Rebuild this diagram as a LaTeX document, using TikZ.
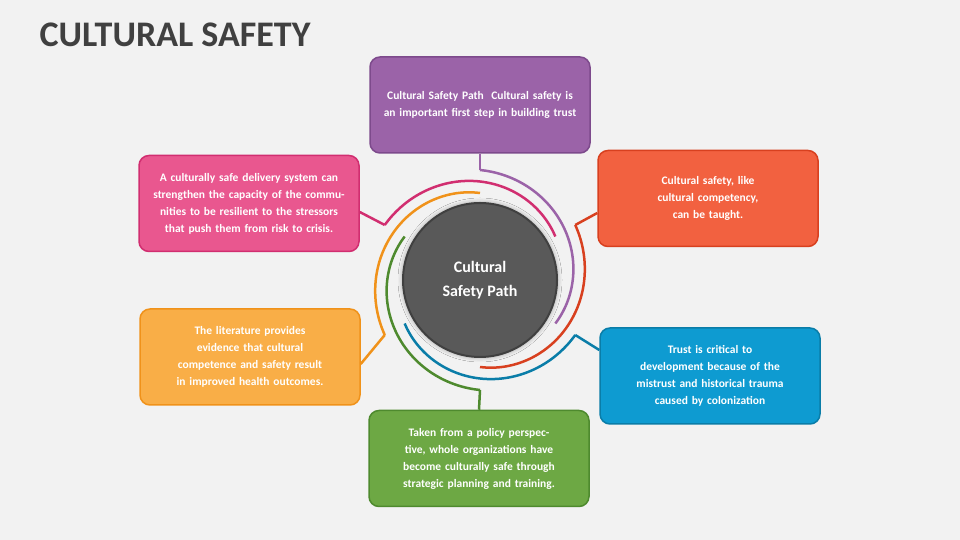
\documentclass[tikz,border=0pt]{standalone}
\usepackage{fontspec}
\setmainfont{Carlito}
\usetikzlibrary{shadows.blur}

\definecolor{bgray}{HTML}{F2F2F2}
\definecolor{titlegray}{HTML}{404040}
\definecolor{cpurple}{HTML}{9B63A8}
\definecolor{cpurpleD}{HTML}{7D4A8C}
\definecolor{cred}{HTML}{F26140}
\definecolor{credD}{HTML}{D8401F}
\definecolor{cpink}{HTML}{E9578F}
\definecolor{cpinkD}{HTML}{D12E70}
\definecolor{corange}{HTML}{F9AE47}
\definecolor{corangeD}{HTML}{F0921A}
\definecolor{cblue}{HTML}{0E9BD1}
\definecolor{cblueD}{HTML}{0A7DA8}
\definecolor{cgreen}{HTML}{6DA844}
\definecolor{cgreenD}{HTML}{4E8A2E}

\tikzset{
  infobox/.style={rounded corners=10pt, line width=1.5pt, minimum width=220pt,
    minimum height=96pt, text width=200pt, align=center, text=white,
    font=\fontsize{11.5}{17}\selectfont\bfseries},
  arcline/.style={line width=2.5pt},
}
\newcommand{\spiral}[2]{%
  \draw[arcline, #1, shift={(c)}] plot[domain=#2:#2-120, samples=40, smooth]
    (\x:{110-23*(#2-\x)/120});
}

\begin{document}
\begin{tikzpicture}[x=1pt, y=1pt]
  \fill[bgray] (0,0) rectangle (960,540);
  \useasboundingbox (0,0) rectangle (960,540);

  \node[anchor=west, text=titlegray, font=\fontsize{36}{40}\selectfont\bfseries] (title) at (36,505) {CULTURAL SAFETY};

  \node[infobox, fill=cpurple, draw=cpurpleD] (p) at (480,435) {Cultural Safety Path\ \ Cultural safety is an important first step in building trust};
  \node[infobox, fill=cred, draw=credD] (r) at (708,341.5) {Cultural safety, like\\ cultural competency,\\ can be taught.};
  \node[infobox, fill=cpink, draw=cpinkD] (k) at (249,336.5) {A culturally safe delivery system can strengthen the capacity of the communities to be resilient to the stressors that push them from risk to crisis.};
  \node[infobox, fill=corange, draw=corangeD] (o) at (250,183) {The literature provides\\ evidence that cultural\\ competence and safety result\\ in improved health outcomes.};
  \node[infobox, fill=cblue, draw=cblueD] (b) at (710,164) {Trust is critical to\\ development because of the\\ mistrust and historical trauma\\ caused by colonization};
  \node[infobox, fill=cgreen, draw=cgreenD] (g) at (479,81.5) {Taken from a policy perspective, whole organizations have become culturally safe through strategic planning and training.};

  \coordinate (c) at (480,260);
  \spiral{cpurple}{90}
  \spiral{credD}{30}
  \spiral{cblueD}{-30}
  \spiral{cgreenD}{-90}
  \spiral{corangeD}{-150}
  \spiral{cpinkD}{150}

  \coordinate (ps) at ([shift={(90:110)}]c);
  \coordinate (rs) at ([shift={(30:110)}]c);
  \coordinate (bs) at ([shift={(-30:110)}]c);
  \coordinate (gs) at ([shift={(-90:110)}]c);
  \coordinate (os) at ([shift={(-150:110)}]c);
  \coordinate (ks) at ([shift={(150:110)}]c);

  \draw[arcline, cpurple] (p.south) -- (ps);
  \draw[arcline, credD] ([yshift=-14.5pt]r.west) -- (rs);
  \draw[arcline, cblueD] ([yshift=26pt]b.west) -- (bs);
  \draw[arcline, cgreenD] (g.north) -- (gs);
  \draw[arcline, corangeD] ([yshift=-7pt]o.east) -- (os);
  \draw[arcline, cpinkD] ([yshift=-8.5pt]k.east) -- (ks);

  \node[circle, minimum size=154pt, fill=black!65, draw=black!75, line width=2pt,
    blur shadow={shadow xshift=0pt, shadow yshift=0pt, shadow blur radius=5pt},
    align=center, text=white, font=\fontsize{16}{24}\selectfont\bfseries] (hub) at (c) {Cultural\\ Safety Path};
\end{tikzpicture}
\end{document}
